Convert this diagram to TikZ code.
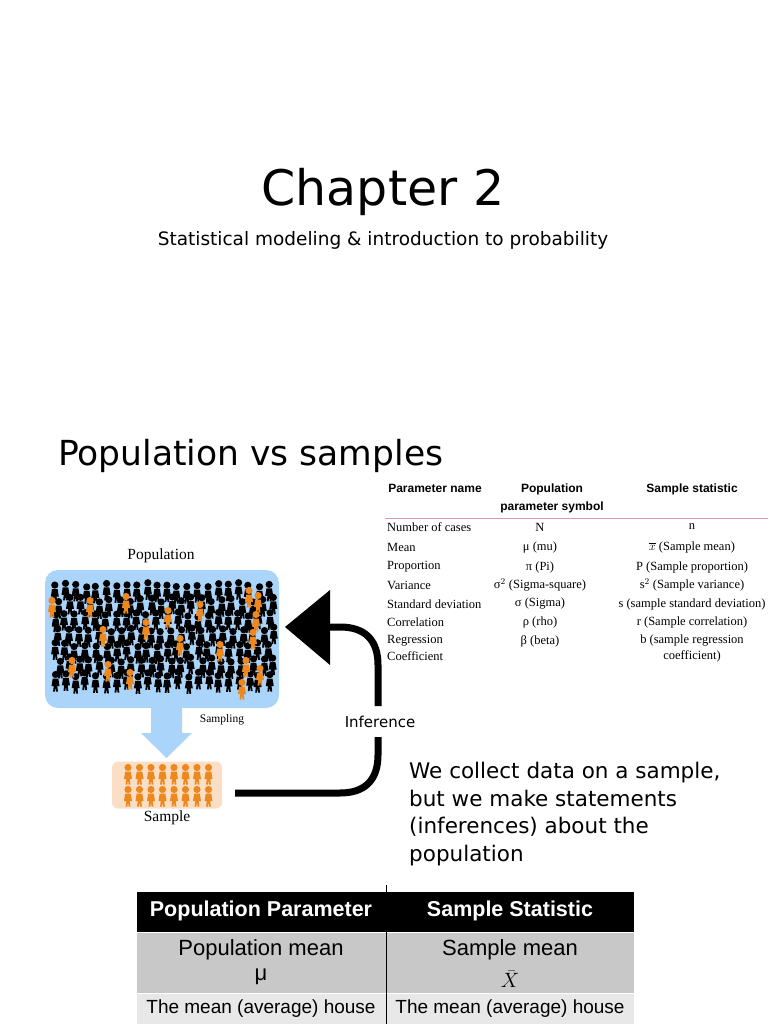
\documentclass[tikz,border=0pt]{standalone}
\usepackage{fontspec}
\setmainfont{DejaVu Sans}
\newfontfamily\serf{Liberation Serif}
\newfontfamily\arl{Liberation Sans}
\usetikzlibrary{arrows.meta}
\definecolor{popblue}{RGB}{170,212,250}
\definecolor{peach}{RGB}{250,222,198}
\definecolor{orng}{RGB}{236,136,30}
\definecolor{pinkl}{RGB}{215,150,200}
\definecolor{grayA}{RGB}{200,200,200}
\definecolor{grayB}{RGB}{232,232,232}
\newcommand{\prsn}[3]{%
 \fill[#3] (#1,#2-7.5) circle (3.6);
 \fill[#3] (#1-2.8,#2-3.5) -- (#1+2.8,#2-3.5) -- (#1+4,#2+4) -- (#1+1.8,#2+4) -- (#1+2.4,#2+9.5) -- (#1+0.6,#2+9.5) -- (#1,#2+5) -- (#1-0.6,#2+9.5) -- (#1-2.4,#2+9.5) -- (#1-1.8,#2+4) -- (#1-4,#2+4) -- cycle;}
\tikzset{
 tcell/.style={font=\serf\fontsize{12.5}{13}\selectfont, inner sep=0pt},
 thead/.style={font=\arl\bfseries\fontsize{12}{14}\selectfont, inner sep=0pt, align=center},
 btxt/.style={font=\arl\fontsize{19}{21}\selectfont, inner sep=0pt, align=center},
 bmid/.style={font=\arl\fontsize{22}{25}\selectfont, inner sep=0pt},
 bhd/.style={font=\arl\bfseries\fontsize{21.5}{24}\selectfont, inner sep=0pt, white},
}
\begin{document}
\begin{tikzpicture}[x=1pt,y=-1pt]
\useasboundingbox (0,0) rectangle (768,1024);
\node (title) at (383,192) {\fontsize{49}{54}\selectfont Chapter 2};
\node (sub) at (383,240) {\fontsize{18.5}{22}\selectfont Statistical modeling \& introduction to probability};
\node[anchor=west, inner sep=0pt] (pvs) at (58,456) {\fontsize{34.5}{40}\selectfont Population vs samples};
% population figure
\node[font=\serf\fontsize{15.5}{18}\selectfont] (plab) at (161,556) {Population};
\node[fill=popblue, rounded corners=13pt, minimum width=234pt, minimum height=138pt, inner sep=0pt] (pop) at (162,639) {};
\pgfmathsetseed{7}
\foreach \r in {0,...,6}{
 \foreach \c in {0,...,21}{
  \pgfmathsetmacro{\xx}{55+\c*10.2+mod(\r,2)*4+rand*1.5}
  \pgfmathsetmacro{\yy}{592+\r*15+rand*2.5}
  \prsn{\xx}{\yy}{black}
 }}
\foreach \xx/\yy in {52/608,90/608,126/604,168/618,200/612,249/598,258/603,256/622,253/640,103/637,146/630,180/646,220/652,72/668,130/680,246/668,260/676,242/690,108/672}{\prsn{\xx}{\yy}{orng}}
\node[font=\serf\fontsize{11.5}{14}\selectfont] (slab) at (222,720) {Sampling};
\fill[popblue] (151,708) -- (182,708) -- (182,733) -- (192,733) -- (166.5,758) -- (141,733) -- (151,733) -- cycle;
\node[fill=peach, rounded corners=6pt, minimum width=110pt, minimum height=47pt, inner sep=0pt] (samp) at (167,785) {};
\foreach \c in {0,...,7}{
 \prsn{128+\c*11.5}{775}{orng}
 \prsn{128+\c*11.5}{797}{orng}}
\node[font=\serf\fontsize{15.5}{18}\selectfont] (samplab) at (167,818) {Sample};
% inference arrow
\node[font=\fontsize{15}{18}\selectfont, inner sep=1pt] (inf) at (380,722) {Inference};
\coordinate (a0) at (235,793);
\coordinate (tip) at (285,627);
\draw[line width=7pt] (a0) -- (340,793) .. controls (365,793) and (378,780) .. (378,755) -- (378,737);
\draw[line width=7pt] (378,706) -- (378,665) .. controls (378,640) and (365,627) .. (340,627) -- (326,627);
\fill (tip) -- (330,590) -- (330,665) -- cycle;
% top table
\node[thead, anchor=base] (h1) at (435,492) {Parameter name};
\node[thead, anchor=base] (h2a) at (552,492) {Population};
\node[thead, anchor=base] (h2b) at (552,510) {parameter symbol};
\node[thead, anchor=base] (h3) at (692,492) {Sample statistic};
\draw[pinkl, line width=1pt] (385,518) -- (768,518);
\foreach \a/\b/\cc/\yy [count=\i] in {Number of cases/N/n/527, Mean/μ (mu)/$\overline{x}$ (Sample mean)/547, Proportion/π (Pi)/P (Sample proportion)/567, Variance/σ$^2$ (Sigma-square)/s$^2$ (Sample variance)/585, Standard deviation/σ (Sigma)/s (sample standard deviation)/604, Correlation/ρ (rho)/r (Sample correlation)/622, Regression/β (beta)/b (sample regression/641}{
 \node[tcell, anchor=west] (r\i a) at (387,\yy) {\a};
 \node[tcell] (r\i b) at (540,\yy) {\b};
 \node[tcell] (r\i c) at (692,\yy) {\cc};
}
\node[tcell, anchor=west] (r8a) at (387,656) {Coefficient};
\node[tcell] (r8c) at (692,656) {coefficient)};
% text
\node[anchor=north west, align=left, font=\fontsize{21.5}{27.5}\selectfont, inner sep=0pt] (stmt) at (409,762) {We collect data on a sample,\\but we make statements\\(inferences) about the\\population};
% bottom table
\fill[black] (137,892) rectangle (634,932);
\fill[grayA] (137,932) rectangle (634,993);
\fill[grayB] (137,993) rectangle (634,1024);
\draw[white, line width=1pt] (137,932) -- (634,932);
\draw[white, line width=1pt] (137,993) -- (634,993);
\draw[line width=1pt] (386,885) -- (386,1024);
\node[bhd] (bh1) at (261,911) {Population Parameter};
\node[bhd] (bh2) at (510,911) {Sample Statistic};
\node[bmid] (b1) at (261,950) {Population mean};
\node[bmid] (b1m) at (261,977) {μ};
\node[bmid] (b2) at (510,950) {Sample mean};
\node[bmid] (b2m) at (510,979) {$\bar{X}$};
\node[btxt, anchor=north] (b3) at (261,1000) {The mean (average) house};
\node[btxt, anchor=north] (b4) at (510,1000) {The mean (average) house};
\end{tikzpicture}
\end{document}
